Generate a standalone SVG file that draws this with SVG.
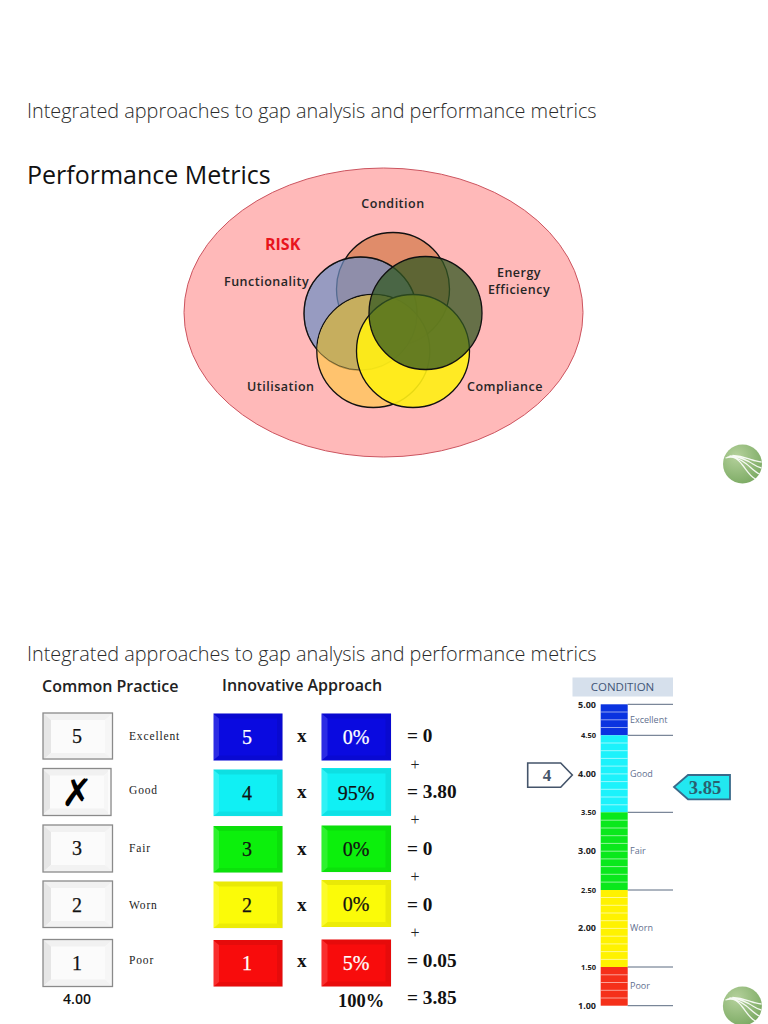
<svg xmlns="http://www.w3.org/2000/svg" width="768" height="1024" viewBox="0 0 768 1024">
<style>
.t{font-family:"Open Sans","Liberation Sans",sans-serif;fill:#2b2b2b;font-weight:300}
.v{font-family:"Open Sans","Liberation Sans",sans-serif;font-size:12.5px;font-weight:600;fill:#262626;letter-spacing:.5px}
.h{font-family:"Open Sans","Liberation Sans",sans-serif;font-size:16px;font-weight:600;fill:#222}
.n{font-family:"Liberation Serif",serif;font-size:20px;text-anchor:middle;fill:#111;stroke:#111;stroke-width:.25}
.w{fill:#fff;stroke:#fff}
.l{font-family:"Liberation Serif",serif;font-size:11.5px;fill:#222;letter-spacing:.85px}
.b{font-family:"Liberation Serif",serif;font-size:19.3px;font-weight:700;fill:#111}
.p{font-family:"Liberation Serif",serif;font-size:16px;fill:#222;text-anchor:middle}
.s{font-family:"Open Sans","Liberation Sans",sans-serif;fill:#222;font-weight:700;text-anchor:end}
.c{font-family:"Open Sans","Liberation Sans",sans-serif;font-size:9px;fill:#5f7090}
.ln{stroke:#5a6a80;stroke-width:1;fill:none}
.circ{stroke:#111;stroke-width:1.3}
.wb{fill:#fbfbfb}
.we{fill:none;stroke:#8a8a8a;stroke-width:1.3}
</style>
<defs>
<g id="bev">
<polygon points="0,0 70,0 64,5 6,5" fill="#000" opacity=".07"/>
<polygon points="0,0 6,5 6,42 0,47" fill="#fff" opacity=".14"/>
<polygon points="70,0 64,5 64,42 70,47" fill="#000" opacity=".07"/>
<polygon points="0,47 6,42 64,42 70,47" fill="#000" opacity=".06"/>
</g>
<g id="wbev">
<polygon points="0,0 70,0 62,7 8,7" fill="#f1f1f1"/>
<polygon points="0,0 8,7 8,40 0,47" fill="#e6e6e6"/>
<polygon points="70,0 62,7 62,40 70,47" fill="#f6f6f6"/>
<polygon points="0,47 8,40 62,40 70,47" fill="#f2f2f2"/>
</g>
<radialGradient id="lg" cx=".35" cy=".3" r=".8"><stop offset="0" stop-color="#b5d19c"/><stop offset="1" stop-color="#78a860"/></radialGradient>
<clipPath id="fc"><circle cx="360.500" cy="313.500" r="56.500"/></clipPath>
<g id="logo">
<circle r="19.500" fill="url(#lg)"/>
<path d="M-17,-6C-8,-9 -4,-4 0,1S8,13 13,15M-15,-7C-6,-8 0,-3 4,0S12,8 17,10M-13,-8C-4,-8 3,-4 7,-2S14,3 19,4M-10,-8.500C0,-8 6,-5 10,-4S16,-2 19,-2" fill="none" stroke="#fff" stroke-width="1.300" opacity=".9"/>
</g>
</defs>
<rect width="768" height="1024" fill="#fff"/>

<text id="title1" class="t" x="27" y="118" font-size="19.850">Integrated approaches to gap analysis and performance metrics</text>
<text id="heading" x="27" y="184" font-size="25" font-family="Open Sans,Liberation Sans,sans-serif" fill="#111">Performance Metrics</text>

<g id="risk">
<ellipse cx="383.500" cy="312.500" rx="199.500" ry="144.500" fill="#ffb9b9" stroke="#cc5560" stroke-width="1"/>
</g>
<g id="venn">
<circle id="condition" class="circ" cx="393" cy="289" r="56.500" fill="#e08c6a"/>
<circle id="functionality" class="circ" cx="360.500" cy="313.500" r="56.500" fill="#6f8fc4" fill-opacity=".72"/>
<circle id="utilisation" class="circ" cx="373.300" cy="351" r="56.500" fill="#ffc650" fill-opacity=".72"/>
<circle cx="373.300" cy="351" r="56" fill="#c6ae5e" clip-path="url(#fc)"/>
<circle cx="360.500" cy="313.500" r="56.500" fill="none" stroke="#111" stroke-width=".5"/>
<circle id="compliance" class="circ" cx="413" cy="351" r="56.500" fill="#ffef14" fill-opacity=".9"/>
<circle id="energy" class="circ" cx="425.500" cy="313" r="56.500" fill="#335823" fill-opacity=".75"/>
</g>
<g id="venn-labels">
<text class="v" x="393" y="208" text-anchor="middle">Condition</text>
<text x="265" y="250" font-size="16" font-weight="700" fill="#e8141c" font-family="Open Sans,Liberation Sans,sans-serif">RISK</text>
<text class="v" x="224" y="286">Functionality</text>
<text class="v" x="519" y="277" text-anchor="middle">Energy</text>
<text class="v" x="519" y="294" text-anchor="middle">Efficiency</text>
<text class="v" x="247" y="391">Utilisation</text>
<text class="v" x="467" y="391">Compliance</text>
</g>
<use id="logo1" href="#logo" x="742.500" y="464"/>

<text id="title2" class="t" x="27" y="661" font-size="19.850">Integrated approaches to gap analysis and performance metrics</text>
<text id="common" class="h" x="42" y="692">Common Practice</text>
<text id="innovative" class="h" x="222" y="691">Innovative Approach</text>

<g id="common-buttons">
<g id="c5"><rect class="wb" x="43" y="713" width="69.500" height="46"/><use href="#wbev" x="43" y="713"/><rect class="we" x="43" y="713" width="69.500" height="46"/><text class="n" x="77" y="743">5</text></g>
<g id="c4"><rect class="wb" x="43" y="768.500" width="68" height="47"/><use href="#wbev" x="42" y="768.500"/><rect class="wb" x="108" y="770" width="3" height="44"/><rect class="we" x="43" y="768.500" width="68" height="47"/><text x="77" y="806" font-family="DejaVu Sans,sans-serif" font-size="38" font-weight="700" text-anchor="middle" fill="#000">✗</text></g>
<g id="c3"><rect class="wb" x="43" y="825" width="69.500" height="47"/><use href="#wbev" x="43" y="825"/><rect class="we" x="43" y="825" width="69.500" height="47"/><text class="n" x="77" y="855">3</text></g>
<g id="c2"><rect class="wb" x="43" y="881" width="69.500" height="46.500"/><use href="#wbev" x="43" y="881"/><rect class="we" x="43" y="881" width="69.500" height="46.500"/><text class="n" x="77" y="912">2</text></g>
<g id="c1"><rect class="wb" x="43" y="939.500" width="69.500" height="47"/><use href="#wbev" x="43" y="939.500"/><rect class="we" x="43" y="939.500" width="69.500" height="47"/><text class="n" x="77" y="970">1</text></g>
</g>
<g id="common-labels">
<text class="l" x="129" y="740">Excellent</text>
<text class="l" x="129" y="794">Good</text>
<text class="l" x="129" y="852">Fair</text>
<text class="l" x="129" y="909">Worn</text>
<text class="l" x="129" y="964">Poor</text>
<text x="77" y="1004" font-size="14" font-weight="600" text-anchor="middle" fill="#111" font-family="Open Sans,Liberation Sans,sans-serif">4.00</text>
</g>

<g id="inno-left">
<g id="i5"><rect x="213.500" y="713.500" width="69" height="47" fill="#0a0ae0"/><use href="#bev" x="213" y="713.500"/><text class="n w" x="247" y="744">5</text></g>
<g id="i4"><rect x="213.500" y="769.500" width="69" height="46.500" fill="#10f0f4"/><use href="#bev" x="213" y="769.500"/><text class="n" x="247" y="800">4</text></g>
<g id="i3"><rect x="213.500" y="826" width="69" height="46.500" fill="#0cf00c"/><use href="#bev" x="213" y="826"/><text class="n" x="247" y="856">3</text></g>
<g id="i2"><rect x="213.500" y="881.500" width="69" height="46.500" fill="#fbfb08"/><use href="#bev" x="213" y="881.500"/><text class="n" x="247" y="912">2</text></g>
<g id="i1"><rect x="213.500" y="940" width="69" height="46.500" fill="#f80c0c"/><use href="#bev" x="213" y="940"/><text class="n w" x="247" y="970">1</text></g>
</g>
<g id="inno-right">
<g id="r5"><rect x="321.500" y="713.500" width="69.500" height="47" fill="#0a0ae0"/><use href="#bev" x="321.500" y="713.500"/><text class="n w" x="356" y="744">0%</text></g>
<g id="r4"><rect x="321.500" y="768" width="69.500" height="48" fill="#10f0f4"/><use href="#bev" x="321.500" y="768.500"/><text class="n" x="356" y="800">95%</text></g>
<g id="r3"><rect x="321.500" y="825.500" width="69.500" height="46.500" fill="#0cf00c"/><use href="#bev" x="321.500" y="825.500"/><text class="n" x="356" y="856">0%</text></g>
<g id="r2"><rect x="321.500" y="880" width="69.500" height="47" fill="#fbfb08"/><use href="#bev" x="321.500" y="880"/><text class="n" x="356" y="911">0%</text></g>
<g id="r1"><rect x="321.500" y="939.500" width="69.500" height="47" fill="#f80c0c"/><use href="#bev" x="321.500" y="939.500"/><text class="n w" x="356" y="970">5%</text></g>
</g>
<g id="calc">
<text class="b" x="297" y="742">x</text><text class="b" x="297" y="798">x</text><text class="b" x="297" y="855">x</text><text class="b" x="297" y="911">x</text><text class="b" x="297" y="967">x</text>
<text class="b" x="407" y="742">= 0</text><text class="b" x="407" y="798">= 3.80</text><text class="b" x="407" y="855">= 0</text><text class="b" x="407" y="911">= 0</text><text class="b" x="407" y="967">= 0.05</text><text class="b" x="407" y="1004">= 3.85</text>
<text class="b" x="338" y="1007" style="font-size:18.500px">100%</text>
<text class="p" x="415" y="770">+</text><text class="p" x="415" y="825">+</text><text class="p" x="415" y="882">+</text><text class="p" x="415" y="938">+</text>
</g>

<g id="scale">
<rect x="572.500" y="677.500" width="100.500" height="19" fill="#d6e0ec"/>
<text x="622.500" y="691" font-size="11.500" text-anchor="middle" fill="#3f5577" font-family="Open Sans,Liberation Sans,sans-serif">CONDITION</text>
<rect x="600.700" y="704.300" width="27" height="31" fill="#0a33e0"/>
<rect x="600.700" y="735.300" width="27" height="77" fill="#1cf2fb"/>
<rect x="600.700" y="812.300" width="27" height="77.700" fill="#0ae81c"/>
<rect x="600.700" y="890" width="27" height="77" fill="#fff200"/>
<rect x="600.700" y="967" width="27" height="38.700" fill="#f5301a"/>
<path fill="none" stroke="#fff" stroke-width="1" opacity=".55" d="M600.700 712h27M600.700 719.800h27M600.700 727.500h27M600.700 743h27M600.700 750.700h27M600.700 758.400h27M600.700 766.100h27M600.700 773.900h27M600.700 781.600h27M600.700 789.300h27M600.700 797h27M600.700 804.800h27M600.700 820.200h27M600.700 828h27M600.700 835.700h27M600.700 843.400h27M600.700 851.200h27M600.700 858.900h27M600.700 866.600h27M600.700 874.300h27M600.700 882.100h27M600.700 897.500h27M600.700 905.300h27M600.700 913h27M600.700 920.700h27M600.700 928.400h27M600.700 936.200h27M600.700 943.900h27M600.700 951.600h27M600.700 959.400h27M600.700 974.800h27M600.700 982.500h27M600.700 990.300h27M600.700 998h27"/>
<path class="ln" d="M627.700 704.300H673M627.700 735.300H673M627.700 812.300H673M627.700 890H673M627.700 967H673M627.700 1005.700H673"/>
<text class="s" x="596" y="708" font-size="9">5.00</text>
<text class="s" x="596" y="738" font-size="7.500">4.50</text>
<text class="s" x="596" y="777" font-size="9">4.00</text>
<text class="s" x="596" y="815" font-size="7.500">3.50</text>
<text class="s" x="596" y="854" font-size="9">3.00</text>
<text class="s" x="596" y="893" font-size="7.500">2.50</text>
<text class="s" x="596" y="931" font-size="9">2.00</text>
<text class="s" x="596" y="970" font-size="7.500">1.50</text>
<text class="s" x="596" y="1009" font-size="9">1.00</text>
<text class="c" x="630" y="723">Excellent</text>
<text class="c" x="630" y="777">Good</text>
<text class="c" x="630" y="854">Fair</text>
<text class="c" x="630" y="931">Worn</text>
<text class="c" x="630" y="989">Poor</text>
</g>
<g id="marker-4">
<polygon points="527.700,763 560.700,763 572.300,775 560.700,787.300 527.700,787.300" fill="#fff" stroke="#44546a" stroke-width="1.600"/>
<text x="547" y="781" font-size="17" font-weight="700" text-anchor="middle" fill="#44546a" font-family="Liberation Serif,serif">4</text>
</g>
<g id="marker-385">
<polygon points="674,787 688,775 730,775 730,799.300 688,799.300" fill="#22e8f0" stroke="#3a6a8a" stroke-width="1.800"/>
<text x="705" y="794" font-size="18.500" font-weight="700" text-anchor="middle" fill="#2a6070" font-family="Liberation Serif,serif">3.85</text>
</g>
<use id="logo2" href="#logo" x="742.400" y="1006"/>
</svg>
